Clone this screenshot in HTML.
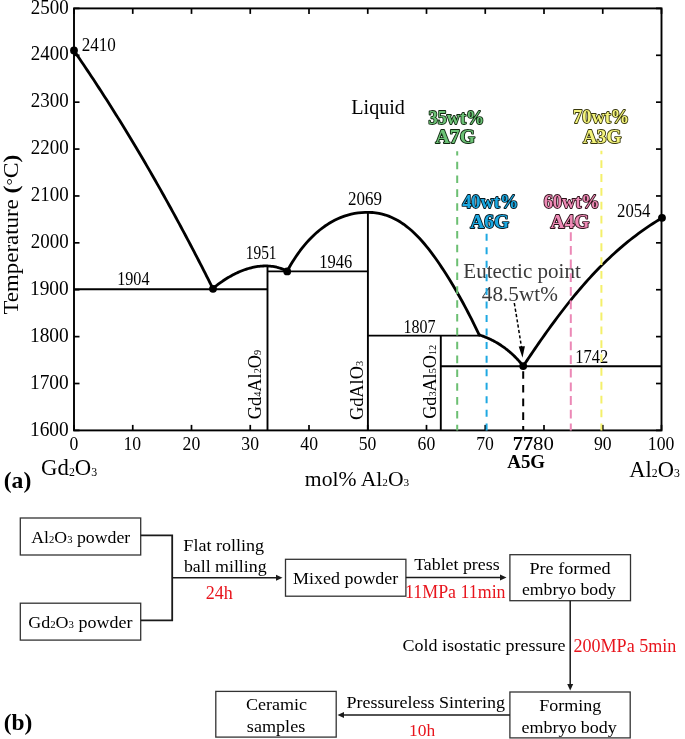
<!DOCTYPE html>
<html><head><meta charset="utf-8"><title>Phase diagram</title>
<style>html,body{margin:0;padding:0;background:#fff;}svg{display:block;}</style>
</head><body>
<svg width="685" height="739" viewBox="0 0 685 739" font-family='"Liberation Serif", "Times New Roman", serif'>
<rect width="685" height="739" fill="#fff"/>
<line x1="74.0" y1="289.3" x2="267.5" y2="289.3" stroke="#000" stroke-width="1.9"/>
<line x1="267.5" y1="271.4" x2="367.9" y2="271.4" stroke="#000" stroke-width="1.9"/>
<line x1="367.9" y1="335.6" x2="480.0" y2="335.6" stroke="#000" stroke-width="1.9"/>
<line x1="440.8" y1="366.2" x2="661.5" y2="366.2" stroke="#000" stroke-width="1.9"/>
<line x1="267.5" y1="266.5" x2="267.5" y2="430.4" stroke="#000" stroke-width="1.9"/>
<line x1="367.9" y1="211.5" x2="367.9" y2="430.4" stroke="#000" stroke-width="1.9"/>
<line x1="440.8" y1="335.6" x2="440.8" y2="430.4" stroke="#000" stroke-width="1.9"/>
<path d="M73.80,50.40 L75.78,53.27 L77.76,56.15 L79.73,59.04 L81.69,61.93 L83.64,64.82 L85.60,67.72 L87.54,70.62 L89.48,73.52 L91.41,76.43 L93.34,79.35 L95.26,82.27 L97.17,85.19 L99.08,88.12 L100.99,91.05 L102.88,93.99 L104.78,96.93 L106.66,99.87 L108.54,102.82 L110.42,105.77 L112.28,108.73 L114.15,111.69 L116.00,114.65 L117.85,117.62 L119.70,120.59 L121.54,123.57 L123.37,126.55 L125.20,129.53 L127.02,132.52 L128.84,135.51 L130.65,138.50 L132.46,141.50 L134.26,144.50 L136.06,147.51 L137.85,150.51 L139.63,153.52 L141.41,156.54 L143.18,159.56 L144.95,162.58 L146.71,165.60 L148.47,168.63 L150.22,171.66 L151.97,174.70 L153.71,177.73 L155.44,180.77 L157.17,183.82 L158.90,186.86 L160.62,189.91 L162.33,192.96 L164.04,196.02 L165.75,199.08 L167.45,202.14 L169.14,205.20 L170.83,208.27 L172.51,211.33 L174.19,214.41 L175.87,217.48 L177.53,220.56 L179.20,223.63 L180.86,226.72 L182.51,229.80 L184.16,232.89 L185.80,235.97 L187.44,239.06 L189.07,242.16 L190.70,245.25 L192.33,248.35 L193.94,251.45 L195.56,254.55 L197.17,257.66 L198.77,260.76 L200.37,263.87 L201.97,266.98 L203.56,270.09 L205.14,273.20 L206.72,276.32 L208.30,279.44 L209.87,282.56 L211.44,285.68 L213.00,288.80" fill="none" stroke="#000" stroke-width="2.8" stroke-linejoin="round" stroke-linecap="round"/>
<path d="M212.80,288.60 L213.79,287.76 L214.81,286.93 L215.84,286.10 L216.88,285.27 L217.95,284.46 L219.03,283.65 L220.12,282.85 L221.23,282.06 L222.35,281.28 L223.49,280.51 L224.65,279.76 L225.81,279.01 L226.99,278.28 L228.18,277.56 L229.38,276.85 L230.60,276.16 L231.82,275.49 L233.06,274.83 L234.30,274.19 L235.56,273.57 L236.82,272.97 L238.09,272.39 L239.38,271.82 L240.66,271.28 L241.96,270.76 L243.27,270.26 L244.57,269.79 L245.89,269.34 L247.21,268.91 L248.54,268.51 L249.87,268.13 L251.21,267.79 L252.55,267.47 L253.89,267.17 L255.23,266.91 L256.58,266.68 L257.93,266.47 L259.28,266.30 L260.63,266.16 L261.99,266.05 L263.34,265.98 L264.69,265.94 L266.04,265.94 L267.40,265.97 L268.74,266.03 L270.09,266.14 L271.44,266.28 L272.78,266.46 L274.11,266.68 L275.45,266.94 L276.78,267.24 L278.10,267.58 L279.42,267.97 L280.73,268.40 L282.04,268.87 L283.34,269.38 L284.64,269.94 L285.92,270.55 L287.20,271.20" fill="none" stroke="#000" stroke-width="2.8" stroke-linejoin="round" stroke-linecap="round"/>
<path d="M287.20,271.20 L288.79,268.25 L290.46,265.29 L292.22,262.34 L294.06,259.40 L295.99,256.48 L298.00,253.58 L300.09,250.71 L302.27,247.89 L304.52,245.12 L306.86,242.41 L309.28,239.77 L311.78,237.20 L314.35,234.71 L317.01,232.31 L319.75,230.02 L322.56,227.83 L325.45,225.75 L328.42,223.80 L331.46,221.97 L334.58,220.29 L337.77,218.75 L341.04,217.37 L344.38,216.15 L347.77,215.09 L351.21,214.19 L354.68,213.47 L358.17,212.92 L361.67,212.54 L365.17,212.34 L368.66,212.32 L372.13,212.48 L375.56,212.83 L378.94,213.37 L382.27,214.10 L385.53,215.03 L388.71,216.14 L391.83,217.44 L394.88,218.90 L397.86,220.53 L400.77,222.31 L403.63,224.23 L406.41,226.29 L409.14,228.48 L411.81,230.78 L414.42,233.19 L416.97,235.71 L419.47,238.31 L421.91,240.99 L424.30,243.75 L426.63,246.57 L428.92,249.44 L431.16,252.36 L433.35,255.32 L435.49,258.31 L437.59,261.31 L439.65,264.33 L441.66,267.35 L443.63,270.35 L445.57,273.35 L447.46,276.34 L449.33,279.33 L451.15,282.31 L452.95,285.29 L454.72,288.27 L456.46,291.25 L458.18,294.24 L459.88,297.24 L461.55,300.26 L463.21,303.28 L464.85,306.33 L466.47,309.39 L468.09,312.48 L469.69,315.58 L471.28,318.72 L472.87,321.89 L474.45,325.09 L476.03,328.32 L477.62,331.59 L479.20,334.90" fill="none" stroke="#000" stroke-width="2.8" stroke-linejoin="round" stroke-linecap="round"/>
<path d="M479.20,334.90 L480.09,335.18 L480.97,335.47 L481.85,335.78 L482.73,336.09 L483.60,336.41 L484.47,336.74 L485.33,337.08 L486.19,337.43 L487.05,337.79 L487.90,338.16 L488.75,338.54 L489.59,338.93 L490.43,339.32 L491.27,339.73 L492.10,340.15 L492.92,340.57 L493.74,341.00 L494.56,341.44 L495.37,341.89 L496.18,342.35 L496.98,342.82 L497.77,343.30 L498.56,343.78 L499.35,344.27 L500.13,344.77 L500.91,345.28 L501.68,345.80 L502.44,346.32 L503.20,346.86 L503.96,347.40 L504.71,347.95 L505.45,348.50 L506.19,349.06 L506.92,349.64 L507.65,350.21 L508.37,350.80 L509.08,351.39 L509.79,351.99 L510.49,352.60 L511.19,353.21 L511.88,353.83 L512.57,354.46 L513.24,355.10 L513.92,355.74 L514.58,356.38 L515.24,357.04 L515.89,357.70 L516.54,358.37 L517.18,359.04 L517.81,359.72 L518.44,360.41 L519.06,361.10 L519.67,361.79 L520.28,362.50 L520.88,363.21 L521.47,363.92 L522.05,364.64 L522.63,365.37 L523.20,366.10" fill="none" stroke="#000" stroke-width="2.8" stroke-linejoin="round" stroke-linecap="round"/>
<path d="M523.20,366.10 L525.13,363.22 L527.06,360.35 L528.99,357.48 L530.94,354.61 L532.89,351.74 L534.85,348.87 L536.82,346.01 L538.79,343.16 L540.78,340.31 L542.77,337.46 L544.78,334.62 L546.80,331.79 L548.82,328.97 L550.86,326.16 L552.91,323.35 L554.97,320.55 L557.05,317.77 L559.14,314.99 L561.24,312.23 L563.36,309.48 L565.49,306.74 L567.63,304.01 L569.80,301.30 L571.97,298.60 L574.17,295.92 L576.38,293.25 L578.61,290.60 L580.86,287.97 L583.12,285.35 L585.41,282.75 L587.71,280.17 L590.04,277.61 L592.38,275.07 L594.75,272.55 L597.13,270.05 L599.54,267.58 L601.97,265.12 L604.43,262.69 L606.90,260.28 L609.40,257.90 L611.93,255.54 L614.47,253.21 L617.05,250.90 L619.65,248.62 L622.27,246.36 L624.92,244.14 L627.60,241.94 L630.31,239.77 L633.04,237.63 L635.80,235.52 L638.59,233.44 L641.41,231.40 L644.26,229.38 L647.14,227.40 L650.05,225.45 L652.99,223.54 L655.96,221.65 L658.96,219.81 L662.00,218.00" fill="none" stroke="#000" stroke-width="2.8" stroke-linejoin="round" stroke-linecap="round"/>
<circle cx="74.0" cy="50.4" r="3.9" fill="#000"/>
<circle cx="213.0" cy="288.8" r="3.9" fill="#000"/>
<circle cx="287.2" cy="271.4" r="3.9" fill="#000"/>
<circle cx="523.2" cy="366.1" r="3.9" fill="#000"/>
<circle cx="662" cy="217.8" r="3.9" fill="#000"/>
<rect x="74.0" y="8.4" width="587.5" height="422.0" fill="none" stroke="#000" stroke-width="1.9"/>
<line x1="74.00" y1="430.4" x2="74.00" y2="424.9" stroke="#000" stroke-width="1.7"/>
<line x1="74.00" y1="8.4" x2="74.00" y2="13.9" stroke="#000" stroke-width="1.7"/>
<line x1="132.75" y1="430.4" x2="132.75" y2="424.9" stroke="#000" stroke-width="1.7"/>
<line x1="132.75" y1="8.4" x2="132.75" y2="13.9" stroke="#000" stroke-width="1.7"/>
<line x1="191.50" y1="430.4" x2="191.50" y2="424.9" stroke="#000" stroke-width="1.7"/>
<line x1="191.50" y1="8.4" x2="191.50" y2="13.9" stroke="#000" stroke-width="1.7"/>
<line x1="250.25" y1="430.4" x2="250.25" y2="424.9" stroke="#000" stroke-width="1.7"/>
<line x1="250.25" y1="8.4" x2="250.25" y2="13.9" stroke="#000" stroke-width="1.7"/>
<line x1="309.00" y1="430.4" x2="309.00" y2="424.9" stroke="#000" stroke-width="1.7"/>
<line x1="309.00" y1="8.4" x2="309.00" y2="13.9" stroke="#000" stroke-width="1.7"/>
<line x1="367.75" y1="430.4" x2="367.75" y2="424.9" stroke="#000" stroke-width="1.7"/>
<line x1="367.75" y1="8.4" x2="367.75" y2="13.9" stroke="#000" stroke-width="1.7"/>
<line x1="426.50" y1="430.4" x2="426.50" y2="424.9" stroke="#000" stroke-width="1.7"/>
<line x1="426.50" y1="8.4" x2="426.50" y2="13.9" stroke="#000" stroke-width="1.7"/>
<line x1="485.25" y1="430.4" x2="485.25" y2="424.9" stroke="#000" stroke-width="1.7"/>
<line x1="485.25" y1="8.4" x2="485.25" y2="13.9" stroke="#000" stroke-width="1.7"/>
<line x1="544.00" y1="430.4" x2="544.00" y2="424.9" stroke="#000" stroke-width="1.7"/>
<line x1="544.00" y1="8.4" x2="544.00" y2="13.9" stroke="#000" stroke-width="1.7"/>
<line x1="602.75" y1="430.4" x2="602.75" y2="424.9" stroke="#000" stroke-width="1.7"/>
<line x1="602.75" y1="8.4" x2="602.75" y2="13.9" stroke="#000" stroke-width="1.7"/>
<line x1="661.50" y1="430.4" x2="661.50" y2="424.9" stroke="#000" stroke-width="1.7"/>
<line x1="661.50" y1="8.4" x2="661.50" y2="13.9" stroke="#000" stroke-width="1.7"/>
<line x1="74.0" y1="430.40" x2="79.5" y2="430.40" stroke="#000" stroke-width="1.7"/>
<line x1="661.5" y1="430.40" x2="656.0" y2="430.40" stroke="#000" stroke-width="1.7"/>
<line x1="74.0" y1="383.51" x2="79.5" y2="383.51" stroke="#000" stroke-width="1.7"/>
<line x1="661.5" y1="383.51" x2="656.0" y2="383.51" stroke="#000" stroke-width="1.7"/>
<line x1="74.0" y1="336.62" x2="79.5" y2="336.62" stroke="#000" stroke-width="1.7"/>
<line x1="661.5" y1="336.62" x2="656.0" y2="336.62" stroke="#000" stroke-width="1.7"/>
<line x1="74.0" y1="289.73" x2="79.5" y2="289.73" stroke="#000" stroke-width="1.7"/>
<line x1="661.5" y1="289.73" x2="656.0" y2="289.73" stroke="#000" stroke-width="1.7"/>
<line x1="74.0" y1="242.84" x2="79.5" y2="242.84" stroke="#000" stroke-width="1.7"/>
<line x1="661.5" y1="242.84" x2="656.0" y2="242.84" stroke="#000" stroke-width="1.7"/>
<line x1="74.0" y1="195.96" x2="79.5" y2="195.96" stroke="#000" stroke-width="1.7"/>
<line x1="661.5" y1="195.96" x2="656.0" y2="195.96" stroke="#000" stroke-width="1.7"/>
<line x1="74.0" y1="149.07" x2="79.5" y2="149.07" stroke="#000" stroke-width="1.7"/>
<line x1="661.5" y1="149.07" x2="656.0" y2="149.07" stroke="#000" stroke-width="1.7"/>
<line x1="74.0" y1="102.18" x2="79.5" y2="102.18" stroke="#000" stroke-width="1.7"/>
<line x1="661.5" y1="102.18" x2="656.0" y2="102.18" stroke="#000" stroke-width="1.7"/>
<line x1="74.0" y1="55.29" x2="79.5" y2="55.29" stroke="#000" stroke-width="1.7"/>
<line x1="661.5" y1="55.29" x2="656.0" y2="55.29" stroke="#000" stroke-width="1.7"/>
<line x1="74.0" y1="8.40" x2="79.5" y2="8.40" stroke="#000" stroke-width="1.7"/>
<line x1="661.5" y1="8.40" x2="656.0" y2="8.40" stroke="#000" stroke-width="1.7"/>
<text x="30.00" y="435.60" font-size="20.3" fill="#000" textLength="38.74" lengthAdjust="spacingAndGlyphs">1600</text>
<text x="30.00" y="388.71" font-size="20.3" fill="#000" textLength="38.74" lengthAdjust="spacingAndGlyphs">1700</text>
<text x="30.00" y="341.82" font-size="20.3" fill="#000" textLength="38.74" lengthAdjust="spacingAndGlyphs">1800</text>
<text x="30.00" y="294.93" font-size="20.3" fill="#000" textLength="38.74" lengthAdjust="spacingAndGlyphs">1900</text>
<text x="30.87" y="248.04" font-size="20.3" fill="#000" textLength="37.85" lengthAdjust="spacingAndGlyphs">2000</text>
<text x="30.87" y="201.16" font-size="20.3" fill="#000" textLength="37.85" lengthAdjust="spacingAndGlyphs">2100</text>
<text x="30.87" y="154.27" font-size="20.3" fill="#000" textLength="37.85" lengthAdjust="spacingAndGlyphs">2200</text>
<text x="30.87" y="107.38" font-size="20.3" fill="#000" textLength="37.85" lengthAdjust="spacingAndGlyphs">2300</text>
<text x="30.87" y="60.49" font-size="20.3" fill="#000" textLength="37.85" lengthAdjust="spacingAndGlyphs">2400</text>
<text x="30.87" y="13.60" font-size="20.3" fill="#000" textLength="37.85" lengthAdjust="spacingAndGlyphs">2500</text>
<text x="69.58" y="449.70" font-size="19" fill="#000" textLength="8.83" lengthAdjust="spacingAndGlyphs">0</text>
<text x="123.47" y="449.70" font-size="19" fill="#000" textLength="17.67" lengthAdjust="spacingAndGlyphs">10</text>
<text x="182.61" y="449.70" font-size="19" fill="#000" textLength="17.67" lengthAdjust="spacingAndGlyphs">20</text>
<text x="241.33" y="449.70" font-size="19" fill="#000" textLength="17.67" lengthAdjust="spacingAndGlyphs">30</text>
<text x="300.33" y="449.70" font-size="19" fill="#000" textLength="17.67" lengthAdjust="spacingAndGlyphs">40</text>
<text x="358.74" y="449.70" font-size="19" fill="#000" textLength="17.67" lengthAdjust="spacingAndGlyphs">50</text>
<text x="417.62" y="449.70" font-size="19" fill="#000" textLength="17.67" lengthAdjust="spacingAndGlyphs">60</text>
<text x="476.17" y="449.70" font-size="19" fill="#000" textLength="17.67" lengthAdjust="spacingAndGlyphs">70</text>
<text x="593.97" y="449.70" font-size="19" fill="#000" textLength="17.67" lengthAdjust="spacingAndGlyphs">90</text>
<text x="647.81" y="449.70" font-size="19" fill="#000" textLength="26.50" lengthAdjust="spacingAndGlyphs">100</text>
<text x="512.84" y="450.20" font-size="19.5" font-weight="bold" fill="#000" textLength="20.25" lengthAdjust="spacingAndGlyphs">77</text>
<text x="533.01" y="449.60" font-size="19.5" fill="#000" textLength="20.78" lengthAdjust="spacingAndGlyphs">80</text>
<text x="81.75" y="51.20" font-size="18.5" fill="#000" textLength="34.10" lengthAdjust="spacingAndGlyphs">2410</text>
<text x="117.18" y="285.30" font-size="18.5" fill="#000" textLength="32.38" lengthAdjust="spacingAndGlyphs">1904</text>
<text x="245.75" y="259.30" font-size="18.5" fill="#000" textLength="30.78" lengthAdjust="spacingAndGlyphs">1951</text>
<text x="319.35" y="268.30" font-size="18.5" fill="#000" textLength="33.04" lengthAdjust="spacingAndGlyphs">1946</text>
<text x="347.95" y="205.00" font-size="18.5" fill="#000" textLength="33.94" lengthAdjust="spacingAndGlyphs">2069</text>
<text x="403.39" y="333.30" font-size="18.5" fill="#000" textLength="32.07" lengthAdjust="spacingAndGlyphs">1807</text>
<text x="575.36" y="362.70" font-size="18.5" fill="#000" textLength="32.85" lengthAdjust="spacingAndGlyphs">1742</text>
<text x="617.07" y="216.70" font-size="18.5" fill="#000" textLength="33.39" lengthAdjust="spacingAndGlyphs">2054</text>
<text x="351.32" y="113.90" font-size="20.5" fill="#000" textLength="53.62" lengthAdjust="spacingAndGlyphs">Liquid</text>
<text x="463.29" y="277.70" font-size="21" fill="#3a3a3a" textLength="117.53" lengthAdjust="spacingAndGlyphs">Eutectic point</text>
<text x="481.79" y="301.30" font-size="21" fill="#3a3a3a" textLength="76.04" lengthAdjust="spacingAndGlyphs">48.5wt%</text>
<line x1="457.2" y1="151.2" x2="457.2" y2="430.4" stroke="#6cbf72" stroke-width="2.0" stroke-dasharray="7.6 6.25" stroke-dashoffset="3.4"/>
<line x1="486.6" y1="233.7" x2="486.6" y2="430.4" stroke="#1ea8e2" stroke-width="2.0" stroke-dasharray="7.0 6.55" stroke-dashoffset="0.0"/>
<line x1="570.8" y1="232.3" x2="570.8" y2="430.4" stroke="#ec88b6" stroke-width="2.0" stroke-dasharray="8.8 4.85" stroke-dashoffset="0.0"/>
<line x1="601.4" y1="150.7" x2="601.4" y2="430.4" stroke="#f4f06a" stroke-width="2.0" stroke-dasharray="7.8 6.05" stroke-dashoffset="4.3"/>
<line x1="523.2" y1="371.2" x2="523.2" y2="430.4" stroke="#000" stroke-width="2.0" stroke-dasharray="7.6 6.1" stroke-dashoffset="0.0"/>
<text x="428.61" y="123.70" font-size="19" font-weight="bold" fill="#6cc276" stroke="#102810" stroke-width="1.8" stroke-linejoin="round" paint-order="stroke" textLength="55.69" lengthAdjust="spacingAndGlyphs">35wt%</text>
<text x="435.51" y="142.80" font-size="19" font-weight="bold" fill="#6cc276" stroke="#102810" stroke-width="1.8" stroke-linejoin="round" paint-order="stroke" textLength="39.64" lengthAdjust="spacingAndGlyphs">A7G</text>
<text x="573.05" y="123.20" font-size="19" font-weight="bold" fill="#f4f47c" stroke="#38380c" stroke-width="1.8" stroke-linejoin="round" paint-order="stroke" textLength="56.17" lengthAdjust="spacingAndGlyphs">70wt%</text>
<text x="583.01" y="142.60" font-size="19" font-weight="bold" fill="#f4f47c" stroke="#38380c" stroke-width="1.8" stroke-linejoin="round" paint-order="stroke" textLength="38.41" lengthAdjust="spacingAndGlyphs">A3G</text>
<text x="462.15" y="208.40" font-size="19" font-weight="bold" fill="#1aa8e2" stroke="#061820" stroke-width="1.8" stroke-linejoin="round" paint-order="stroke" textLength="56.18" lengthAdjust="spacingAndGlyphs">40wt%</text>
<text x="470.31" y="227.90" font-size="19" font-weight="bold" fill="#1aa8e2" stroke="#061820" stroke-width="1.8" stroke-linejoin="round" paint-order="stroke" textLength="38.82" lengthAdjust="spacingAndGlyphs">A6G</text>
<text x="543.68" y="208.40" font-size="19" font-weight="bold" fill="#ee8ab6" stroke="#2c1018" stroke-width="1.8" stroke-linejoin="round" paint-order="stroke" textLength="55.84" lengthAdjust="spacingAndGlyphs">60wt%</text>
<text x="550.51" y="227.90" font-size="19" font-weight="bold" fill="#ee8ab6" stroke="#2c1018" stroke-width="1.8" stroke-linejoin="round" paint-order="stroke" textLength="38.92" lengthAdjust="spacingAndGlyphs">A4G</text>
<path d="M514.3,303 Q518.5,328 521.6,348" fill="none" stroke="#000" stroke-width="1.5" stroke-dasharray="3.2 2.2"/>
<path d="M518.7,346.6 L524.9,346.2 L522.5,357.8 Z" fill="#000"/>
<text x="507.21" y="468.40" font-size="18.3" font-weight="bold" fill="#000" textLength="37.90" lengthAdjust="spacingAndGlyphs">A5G</text>
<g transform="translate(261.20,419.15) rotate(-90) scale(1.0058,1)"><text x="0" y="0" fill="#000"><tspan font-size="18.20" dy="0.00">Gd</tspan><tspan font-size="10.19" dy="0.20">4</tspan><tspan font-size="18.20" dy="-0.20">Al</tspan><tspan font-size="10.19" dy="0.20">2</tspan><tspan font-size="18.20" dy="-0.20">O</tspan><tspan font-size="10.19" dy="0.20">9</tspan></text></g>
<g transform="translate(362.80,420.05) rotate(-90) scale(1.0080,1)"><text x="0" y="0" fill="#000"><tspan font-size="18.20" dy="0.00">GdAlO</tspan><tspan font-size="10.19" dy="0.20">3</tspan></text></g>
<g transform="translate(436.00,418.85) rotate(-90) scale(1.0005,1)"><text x="0" y="0" fill="#000"><tspan font-size="18.20" dy="0.00">Gd</tspan><tspan font-size="10.19" dy="0.20">3</tspan><tspan font-size="18.20" dy="-0.20">Al</tspan><tspan font-size="10.19" dy="0.20">5</tspan><tspan font-size="18.20" dy="-0.20">O</tspan><tspan font-size="10.19" dy="0.20">12</tspan></text></g>
<g transform="translate(18.00,314.61) rotate(-90) scale(1.0759,1)"><text x="0" y="0" fill="#000"><tspan font-size="21.30" dy="0.00">Temperature </tspan><tspan font-size="22.00" font-weight="bold" dy="0.30">(</tspan><tspan font-size="17.00" dy="-0.30">°</tspan><tspan font-size="22.00" dy="0.00">C</tspan><tspan font-size="22.00" font-weight="bold" dy="0.30">)</tspan></text></g>
<g transform="translate(41.07,475.20) scale(1.0117,1)"><text x="0" y="0" fill="#000"><tspan font-size="22.50" dy="0.00">Gd</tspan><tspan font-size="11.70" dy="0.40">2</tspan><tspan font-size="22.50" dy="-0.40">O</tspan><tspan font-size="11.70" dy="0.40">3</tspan></text></g>
<g transform="translate(304.85,486.00) scale(1.0553,1)"><text x="0" y="0" fill="#000"><tspan font-size="20.50" dy="0.00">mol% Al</tspan><tspan font-size="10.66" dy="0.40">2</tspan><tspan font-size="20.50" dy="-0.40">O</tspan><tspan font-size="10.66" dy="0.40">3</tspan></text></g>
<g transform="translate(629.28,476.80) scale(1.0006,1)"><text x="0" y="0" fill="#000"><tspan font-size="22.50" dy="0.00">Al</tspan><tspan font-size="11.70" dy="0.40">2</tspan><tspan font-size="22.50" dy="-0.40">O</tspan><tspan font-size="11.70" dy="0.40">3</tspan></text></g>
<text x="3.76" y="488.40" font-size="23" font-weight="bold" fill="#000" textLength="27.58" lengthAdjust="spacingAndGlyphs">(a)</text>
<rect x="20.3" y="518.0" width="120.39999999999999" height="37.0" fill="none" stroke="#333" stroke-width="1.3"/>
<rect x="20.3" y="603.2" width="120.39999999999999" height="36.89999999999998" fill="none" stroke="#333" stroke-width="1.3"/>
<rect x="285.5" y="559.3" width="120.39999999999998" height="36.90000000000009" fill="none" stroke="#333" stroke-width="1.3"/>
<rect x="509.9" y="554.7" width="120.60000000000002" height="46.0" fill="none" stroke="#333" stroke-width="1.3"/>
<rect x="509.9" y="692.0" width="120.30000000000007" height="45.89999999999998" fill="none" stroke="#333" stroke-width="1.3"/>
<rect x="215.8" y="691.4" width="120.39999999999998" height="45.700000000000045" fill="none" stroke="#333" stroke-width="1.3"/>
<polyline points="140.7,535.3 172.2,535.3 172.2,620.3 140.7,620.3" fill="none" stroke="#1a1a1a" stroke-width="1.8"/>
<line x1="172.2" y1="577.8" x2="278.5" y2="577.8" stroke="#1a1a1a" stroke-width="1.5"/>
<path d="M282.5,577.8 L276.0,574.8 L276.0,580.8 Z" fill="#1a1a1a"/>
<line x1="405.9" y1="577.6" x2="502.5" y2="577.6" stroke="#1a1a1a" stroke-width="1.5"/>
<path d="M506.5,577.6 L500.0,574.6 L500.0,580.6 Z" fill="#1a1a1a"/>
<line x1="570.2" y1="600.7" x2="570.2" y2="686.5" stroke="#1a1a1a" stroke-width="1.5"/>
<path d="M570.2,690.5 L567.2,684.0 L573.2,684.0 Z" fill="#1a1a1a"/>
<line x1="509.9" y1="714.9" x2="341.5" y2="714.9" stroke="#1a1a1a" stroke-width="1.5"/>
<path d="M337.5,714.9 L344.0,711.9 L344.0,717.9 Z" fill="#1a1a1a"/>
<g transform="translate(31.23,542.60) scale(1.0456,1)"><text x="0" y="0" fill="#000"><tspan font-size="17.00" dy="0.00">Al</tspan><tspan font-size="10.20" dy="0.30">2</tspan><tspan font-size="17.00" dy="-0.30">O</tspan><tspan font-size="10.20" dy="0.30">3</tspan><tspan font-size="17.00" dy="-0.30"> powder</tspan></text></g>
<g transform="translate(28.26,627.80) scale(1.0580,1)"><text x="0" y="0" fill="#000"><tspan font-size="17.00" dy="0.00">Gd</tspan><tspan font-size="10.20" dy="0.30">2</tspan><tspan font-size="17.00" dy="-0.30">O</tspan><tspan font-size="10.20" dy="0.30">3</tspan><tspan font-size="17.00" dy="-0.30"> powder</tspan></text></g>
<text x="183.38" y="551.00" font-size="17.5" fill="#000" textLength="80.66" lengthAdjust="spacingAndGlyphs">Flat rolling</text>
<text x="183.90" y="572.20" font-size="17.5" fill="#000" textLength="82.74" lengthAdjust="spacingAndGlyphs">ball milling</text>
<text x="205.81" y="598.70" font-size="18" fill="#e8141c" textLength="27.03" lengthAdjust="spacingAndGlyphs">24h</text>
<text x="292.98" y="584.30" font-size="17.5" fill="#000" textLength="105.38" lengthAdjust="spacingAndGlyphs">Mixed powder</text>
<text x="414.18" y="569.90" font-size="17.5" fill="#000" textLength="85.45" lengthAdjust="spacingAndGlyphs">Tablet press</text>
<text x="405.05" y="597.80" font-size="18" fill="#e8141c" textLength="100.52" lengthAdjust="spacingAndGlyphs">11MPa 11min</text>
<text x="529.48" y="573.70" font-size="17.5" fill="#000" textLength="81.14" lengthAdjust="spacingAndGlyphs">Pre formed</text>
<text x="522.01" y="594.60" font-size="17.5" fill="#000" textLength="93.86" lengthAdjust="spacingAndGlyphs">embryo body</text>
<text x="402.46" y="650.70" font-size="17.5" fill="#000" textLength="162.96" lengthAdjust="spacingAndGlyphs">Cold isostatic pressure</text>
<text x="573.51" y="652.10" font-size="18" fill="#e8141c" textLength="102.77" lengthAdjust="spacingAndGlyphs">200MPa 5min</text>
<text x="539.28" y="710.70" font-size="17.5" fill="#000" textLength="62.06" lengthAdjust="spacingAndGlyphs">Forming</text>
<text x="521.50" y="732.50" font-size="17.5" fill="#000" textLength="95.27" lengthAdjust="spacingAndGlyphs">embryo body</text>
<text x="245.96" y="710.00" font-size="17.5" fill="#000" textLength="61.09" lengthAdjust="spacingAndGlyphs">Ceramic</text>
<text x="246.86" y="732.00" font-size="17.5" fill="#000" textLength="58.40" lengthAdjust="spacingAndGlyphs">samples</text>
<text x="346.48" y="707.90" font-size="17.5" fill="#000" textLength="158.46" lengthAdjust="spacingAndGlyphs">Pressureless Sintering</text>
<text x="408.97" y="736.20" font-size="17.6" fill="#e8141c" textLength="26.16" lengthAdjust="spacingAndGlyphs">10h</text>
<text x="3.77" y="729.90" font-size="23" font-weight="bold" fill="#000" textLength="28.66" lengthAdjust="spacingAndGlyphs">(b)</text>
</svg>
</body></html>
